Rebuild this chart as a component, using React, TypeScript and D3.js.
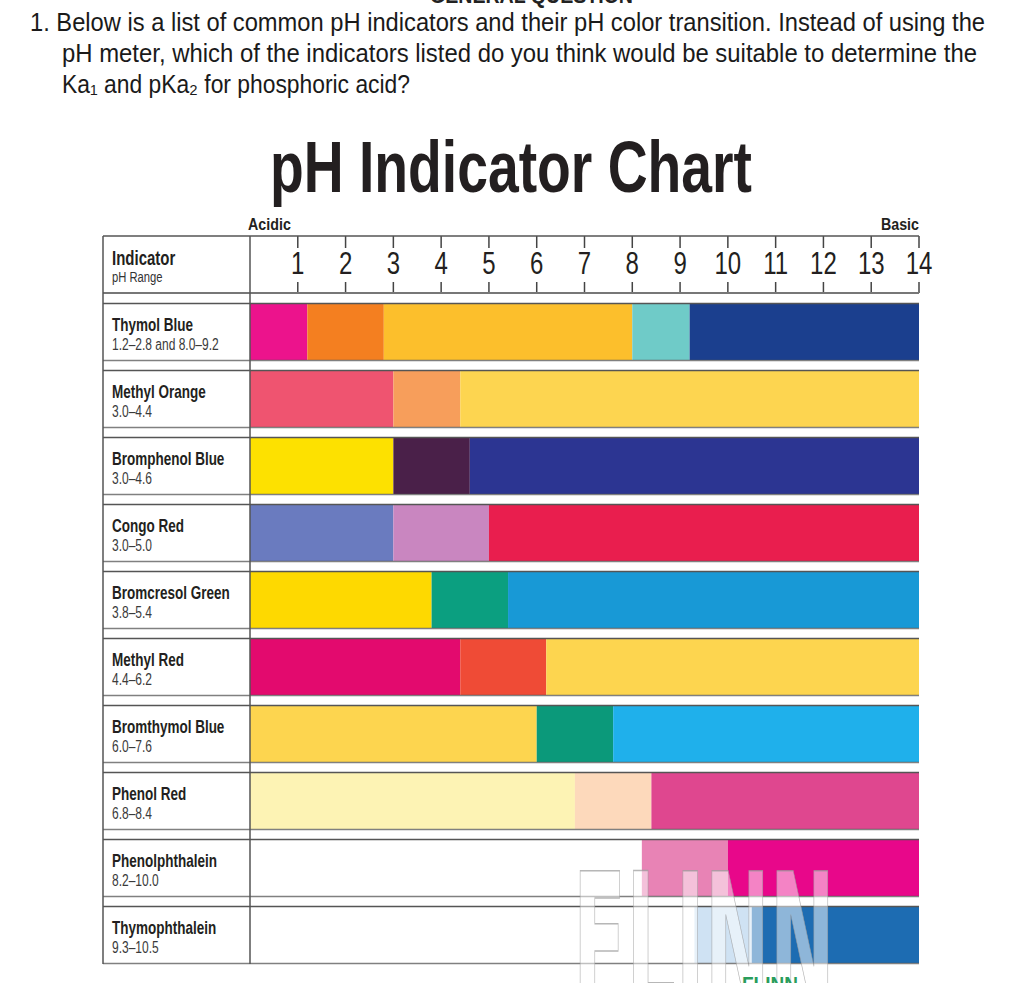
import React from "react";
import * as d3 from "d3";

// rows of the chart, top to bottom
const indicators = [
  "Thymol Blue",
  "Methyl Orange",
  "Bromphenol Blue",
  "Congo Red",
  "Bromcresol Green",
  "Methyl Red",
  "Bromthymol Blue",
  "Phenol Red",
  "Phenolphthalein",
  "Thymophthalein"
];

const phRanges = [
  "1.2–2.8 and 8.0–9.2",
  "3.0–4.4",
  "3.0–4.6",
  "3.0–5.0",
  "3.8–5.4",
  "4.4–6.2",
  "6.0–7.6",
  "6.8–8.4",
  "8.2–10.0",
  "9.3–10.5"
];

// pH values where the colour changes
const transitions = [
  [1.2, 2.8, 8.0, 9.2],
  [3.0, 4.4],
  [3.0, 4.6],
  [3.0, 5.0],
  [3.8, 5.4],
  [4.4, 6.2],
  [6.0, 7.6],
  [6.8, 8.4],
  [8.2, 10.0],
  [9.3, 10.5]
];

// colour of each piece, left to right
const segmentColors = [
  ["#ec138c", "#f47f20", "#fcbf2c", "#6fcbc8", "#1b3f8e"],
  ["#ef5470", "#f79e5b", "#fdd550"],
  ["#fde100", "#4a2049", "#2c3592"],
  ["#6a7bbf", "#c986c0", "#e91e4e"],
  ["#fed900", "#0b9f80", "#1899d6"],
  ["#e30a6e", "#ef4b36", "#fdd54f"],
  ["#fdd54f", "#0b997a", "#1fb0eb"],
  ["#fdf3b4", "#fdd9bb", "#df478f"],
  ["#ffffff", "#e883b5", "#e8078a"],
  ["#ffffff", "#cfe2f3", "#1d6cb2"]
];

const phTicks = [1, 2, 3, 4, 5, 6, 7, 8, 9, 10, 11, 12, 13, 14];

const questionLines = [
  "1. Below is a list of common pH indicators and their pH color transition. Instead of using the",
  "pH meter, which of the indicators listed do you think would be suitable to determine the",
  "Ka₁ and pKa₂ for phosphoric acid?"
];

const FONT = "'Liberation Sans', Arial, sans-serif";
const SX = 0.75; // chart lettering is narrow

const Sq = ({ x, y, sx = SX, children, ...rest }: any) => (
  <text transform={`translate(${x},${y}) scale(${sx},1)`} {...rest}>
    {children}
  </text>
);

const App = () => {
  const left = 103;
  const divider = 250;
  const x = d3.scaleLinear().domain([0, 14]).range([divider, 919]);
  const y = d3
    .scaleBand<string>()
    .domain(indicators)
    .range([304, 963])
    .paddingInner(11 / 67)
    .paddingOuter(0);
  const bh = y.bandwidth();
  const right = x(14);
  const qs = 0.75;

  return (
    <svg
      width={1024}
      height={983}
      style={{ position: "absolute", left: 0, top: 0, background: "#fff" }}
      fontFamily={FONT}
    >
      {/* question text */}
      <text x={430} y={3} fontSize={22} fontWeight="bold" fill="#222" textLength={203} lengthAdjust="spacingAndGlyphs">
        GENERAL QUESTION
      </text>
      <Sq x={30} y={31} sx={qs} fontSize={26} fill="#1a1a1a" textLength={955 / qs} lengthAdjust="spacingAndGlyphs">
        {questionLines[0]}
      </Sq>
      <Sq x={62} y={62} sx={qs} fontSize={26} fill="#1a1a1a" textLength={915 / qs} lengthAdjust="spacingAndGlyphs">
        {questionLines[1]}
      </Sq>
      <text x={62} y={93} fontSize={26} fill="#1a1a1a" textLength={348} lengthAdjust="spacingAndGlyphs">
        {questionLines[2]}
      </text>

      {/* title */}
      <text x={270} y={192} fontSize={72} fontWeight="bold" fill="#231f20" textLength={482} lengthAdjust="spacingAndGlyphs">
        pH Indicator Chart
      </text>
      <Sq x={248} y={230} sx={0.84} fontSize={17} fontWeight="bold" fill="#231f20">
        Acidic
      </Sq>
      <Sq x={919} y={230} sx={0.84} fontSize={17} fontWeight="bold" fill="#231f20" textAnchor="end">
        Basic
      </Sq>

      {/* header row */}
      <Sq x={112} y={265} fontSize={20} fontWeight="bold" fill="#231f20">
        Indicator
      </Sq>
      <Sq x={112} y={282} fontSize={15} fill="#333">
        pH Range
      </Sq>
      {phTicks.map(t => (
        <g key={t}>
          <line x1={x(t)} x2={x(t)} y1={236} y2={248} stroke="#444" strokeWidth={1.5} />
          <line x1={x(t)} x2={x(t)} y1={282} y2={293} stroke="#444" strokeWidth={1.5} />
          <Sq x={x(t)} y={274} fontSize={32} fill="#231f20" textAnchor="middle">
            {t}
          </Sq>
        </g>
      ))}
      <line x1={left} x2={right} y1={236} y2={236} stroke="#555" strokeWidth={1.5} />
      <line x1={left} x2={right} y1={293} y2={293} stroke="#777" strokeWidth={2} />

      {/* colour bars */}
      {indicators.map((name, i) => {
        const stops = [0, ...transitions[i], 14];
        const top = y(name) as number;
        return (
          <g key={name}>
            {segmentColors[i].map((c, j) => (
              <rect
                key={j}
                x={x(stops[j])}
                y={top}
                width={x(stops[j + 1]) - x(stops[j])}
                height={bh}
                fill={c}
              />
            ))}
            <line x1={left} x2={right} y1={top - 0.5} y2={top - 0.5} stroke="#555" strokeWidth={1.5} />
            <line x1={left} x2={right} y1={top + bh + 0.5} y2={top + bh + 0.5} stroke="#555" strokeOpacity={0.75} strokeWidth={1.5} />
            <Sq x={112} y={top + 27} fontSize={18} fontWeight="bold" fill="#231f20">
              {name}
            </Sq>
            <Sq x={112} y={top + 46} fontSize={16} fill="#3a3a3a">
              {phRanges[i]}
            </Sq>
          </g>
        );
      })}
      <line x1={left} x2={left} y1={236} y2={964} stroke="#555" strokeWidth={1.5} />
      <line x1={divider} x2={divider} y1={236} y2={964} stroke="#555" strokeWidth={1.5} />

      {/* watermark */}
      <text
        transform="translate(573,1010) scale(1,1.9)"
        fontFamily="'DejaVu Sans', sans-serif"
        fontSize={100}
        fontWeight="bold"
        fill="#fff"
        fillOpacity={0.5}
        stroke="#999"
        strokeOpacity={0.7}
        strokeWidth={1.2}
        vectorEffect="non-scaling-stroke"
        textLength={262}
        lengthAdjust="spacingAndGlyphs"
      >
        FLINN
      </text>
      <text x={742} y={992} fontSize={22} fontWeight="bold" fill="#2a9d5c" textLength={56} lengthAdjust="spacingAndGlyphs">
        FLINN
      </text>
    </svg>
  );
};

export default App;
